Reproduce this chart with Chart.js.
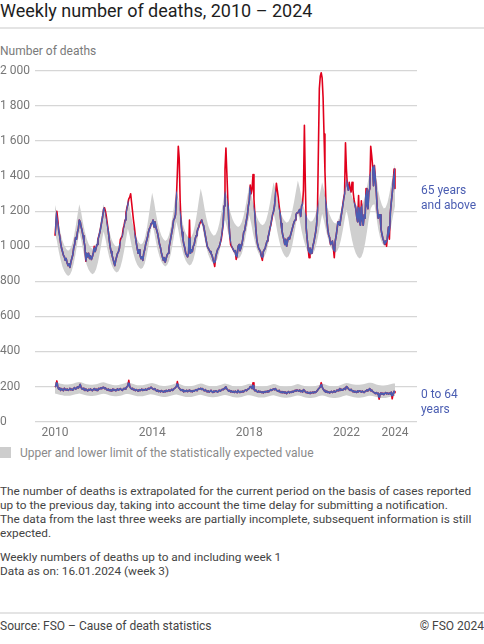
<!DOCTYPE html>
<html>
<head>
<meta charset="utf-8">
<script src="https://cdn.jsdelivr.net/npm/chart.js@4.4.1/dist/chart.umd.min.js"></script>
<style>
  html, body { margin:0; padding:0; background:#fff; }
  body { width:484px; height:644px; position:relative; overflow:hidden; font-family: Roboto, "Noto Sans", sans-serif; }
  .abs { position:absolute; white-space:nowrap; }
  #title { left:0; top:0px; font-size:18px; line-height:21px; color:#1e1e1e; }
  .rule { position:absolute; left:0; width:484px; height:2px; background:#e4e4e4; }
  #ylab { left:0; top:43px; font-size:12px; line-height:16px; color:#7a7a7a; }
  #chartBox { position:absolute; left:0; top:60px; width:484px; height:384px; }
  .series { font-size:12px; line-height:14.5px; color:#4a5db2; }
  #legend { left:0; top:447px; font-size:12px; line-height:12px; color:#8a8a8a; }
  #legend span.sw { display:inline-block; width:11px; height:11px; background:#cdcdcd; vertical-align:top; margin-right:9px; }
  .note { left:0; font-size:11.8px; line-height:14.1px; color:#444; }
  #foot { left:0; top:619px; width:484px; font-size:12px; line-height:15px; color:#444; }
</style>
</head>
<body>
<div id="title" class="abs">Weekly number of deaths, 2010 – 2024</div>
<div class="rule" style="top:27px"></div>
<div id="ylab" class="abs">Number of deaths</div>
<div id="chartBox"><canvas id="c"></canvas></div>
<div class="abs series" style="left:421px; top:183px">65 years<br>and above</div>
<div class="abs series" style="left:421px; top:387px">0 to 64<br>years</div>
<div id="legend" class="abs"><span class="sw"></span>Upper and lower limit of the statistically expected value</div>
<div class="abs note" style="top:484px">The number of deaths is extrapolated for the current period on the basis of cases reported<br>up to the previous day, taking into account the time delay for submitting a notification.<br>The data from the last three weeks are partially incomplete, subsequent information is still<br>expected.</div>
<div class="abs note" style="top:550px">Weekly numbers of deaths up to and including week 1<br>Data as on: 16.01.2024 (week 3)</div>
<div class="rule" style="top:612px"></div>
<div id="foot" class="abs"><span>Source: FSO – Cause of death statistics</span><span style="position:absolute; right:0">© FSO 2024</span></div>

<script>
// ---- DATA ----
const startYear = 2010;
const lineStepsPerYear = 26;   // values every 2 weeks
const bandStepsPerYear = 13;   // band every 4 weeks
const xTickYears = [2010, 2014, 2018, 2022, 2024];
const yTickMax = 2000;
const yTickStep = 200;

// Deaths aged 65 and above (every 2 weeks, 2010 - 2024 week 1)
const deaths65 = [
  1060,1130,1200,1150,1090,1060,1020,990,970,950,940,920,930,905,890,900,880,910,930,950,990,1010,1050,1040,1080,1100,
  1150,1140,1110,1090,1060,1030,1000,915,960,940,960,930,945,925,940,960,1000,970,990,1010,1040,1060,1080,1110,1140,1170,
  1210,1220,1200,1170,1130,1090,1040,1000,970,950,930,910,890,920,940,960,970,990,1040,1050,1060,1100,1120,1150,1190,1220,
  1240,1270,1280,1300,1250,1200,1150,1110,1060,1020,990,960,980,950,930,940,920,960,980,1010,1030,1050,1080,1100,1110,1130,
  1130,1150,1110,1140,1110,1090,1070,1040,1010,990,960,940,920,935,910,930,950,960,990,1020,1050,1080,1110,1150,1160,1180,
  1280,1420,1570,1500,1260,1130,1080,1040,1010,990,960,950,940,960,1150,960,980,970,1000,1010,1040,1060,1080,1100,1110,1130,
  1140,1150,1130,1120,1090,1060,1030,1000,990,980,970,960,950,930,910,885,940,960,980,990,1000,1020,1040,1080,1130,1230,
  1440,1560,1420,1270,1150,1070,1010,1000,990,980,970,975,925,950,1000,1010,975,990,1010,1040,1080,1090,1120,1150,1180,1230,
  1260,1350,1300,1330,1410,1270,1180,1100,1040,1010,990,980,970,940,920,970,980,990,1010,1030,1050,1070,1100,1120,1150,1180,
  1200,1230,1290,1360,1320,1280,1230,1190,1130,1090,1060,1040,1010,1040,1000,1030,1050,1040,1060,1080,1100,1120,1140,1150,1180,1190,
  1190,1200,1210,1170,1230,1240,1320,1690,1360,1100,1040,990,935,990,975,960,1000,1020,1050,1080,1120,1200,1550,1900,1970,1990,
  1960,1850,1640,1430,1260,1160,1100,1065,1050,1010,1020,1030,990,935,1030,1060,1100,1140,1130,1120,1160,1195,1230,1270,1300,1590,
  1440,1345,1320,1365,1330,1310,1365,1320,1270,1240,1215,1170,1140,1290,1140,1120,1260,1150,1120,1180,1160,1330,1240,1215,1310,1330,
  1570,1520,1460,1345,1460,1380,1310,1215,1160,1180,1180,1100,1070,1045,1030,1010,1030,1000,1060,1110,1040,1190,1250,1300,1360,1440,
  1330
];

// Expected range aged 65 and above (every 4 weeks)
const upper65 = [
  1235,1188,1126,1074,1032,1004,985,975,983,1007,1049,1108,1176,
  1240,1194,1133,1082,1041,1013,995,985,993,1016,1056,1113,1179,
  1240,1196,1137,1088,1049,1022,1005,995,1003,1028,1072,1133,1204,
  1270,1223,1161,1109,1067,1039,1020,1010,1019,1045,1093,1158,1234,
  1305,1256,1190,1135,1091,1060,1041,1030,1039,1065,1111,1175,1250,
  1320,1271,1205,1150,1106,1075,1056,1045,1054,1079,1125,1188,1262,
  1330,1281,1217,1163,1119,1090,1071,1060,1068,1091,1133,1190,1258,
  1320,1282,1232,1190,1156,1133,1118,1110,1117,1138,1176,1228,1289,
  1345,1305,1251,1206,1170,1145,1129,1120,1127,1149,1189,1243,1306,
  1365,1324,1268,1222,1186,1160,1144,1135,1142,1164,1202,1255,1317,
  1375,1333,1276,1229,1192,1166,1149,1140,1147,1167,1203,1253,1311,
  1365,1323,1266,1219,1182,1156,1139,1130,1138,1161,1201,1258,1324,
  1385,1355,1316,1283,1256,1238,1227,1220,1228,1251,1291,1340,1395,
  1430,1455,1470,1400,1320,1270,1235,1215,1222,1250,1300,1360,1400,
  1470
];
const lower65 = [
  1075,1031,972,923,884,857,840,830,838,860,900,955,1020,
  1080,1037,979,931,893,866,850,840,847,869,909,963,1026,
  1085,1043,986,939,902,876,859,850,858,880,920,975,1040,
  1100,1059,1003,957,921,895,879,870,878,901,943,1000,1068,
  1130,1086,1027,978,939,912,895,885,893,916,956,1013,1079,
  1140,1095,1035,985,945,918,900,890,898,921,963,1020,1088,
  1150,1105,1045,995,955,928,910,900,908,930,970,1025,1090,
  1150,1110,1058,1014,978,954,939,930,937,959,999,1053,1116,
  1175,1131,1073,1024,985,959,942,932,940,963,1004,1061,1128,
  1190,1144,1083,1032,991,963,945,935,943,966,1006,1063,1129,
  1190,1147,1089,1041,1003,976,960,950,957,978,1016,1068,1129,
  1185,1145,1093,1049,1013,989,974,965,972,994,1034,1088,1151,
  1210,1160,1092,1036,992,961,941,930,939,967,1017,1085,1160,
  1215,1235,1240,1170,1100,1050,1020,1005,1012,1032,1068,1118,1176,
  1230
];

// Deaths aged 0 to 64 (every 2 weeks)
const deaths064 = [
  198,205,232,196,185,192,178,188,182,176,190,184,180,186,178,183,190,181,186,179,188,194,185,190,198,192,
  200,212,194,186,190,182,178,186,180,175,184,179,186,181,176,183,188,180,185,177,184,190,186,192,188,194,
  196,188,192,184,180,186,177,182,175,181,186,178,183,176,180,187,179,184,188,182,178,185,190,186,193,198,
  204,235,200,192,186,190,181,184,177,183,179,174,182,176,181,185,178,183,179,186,180,184,190,186,192,196,
  190,186,183,188,178,174,180,171,176,170,177,173,168,175,170,178,172,176,181,174,179,184,178,186,190,194,
  200,228,198,190,184,178,182,175,170,177,172,178,171,176,180,172,175,170,177,173,179,182,176,184,188,186,
  190,184,188,180,176,182,174,170,176,168,173,179,171,166,174,170,176,172,168,175,179,173,180,184,182,188,
  194,198,186,180,174,178,170,175,168,172,166,174,169,165,178,170,166,172,168,174,170,176,181,176,182,186,
  190,200,196,188,222,184,176,180,172,168,175,169,172,166,170,164,171,167,173,169,175,171,177,182,178,183,
  186,182,188,180,176,172,178,169,166,172,165,170,163,168,160,166,171,164,169,167,172,168,175,178,174,180,
  178,174,180,171,176,168,182,178,170,165,168,162,166,160,167,163,168,164,170,166,172,178,186,192,198,222,
  196,186,178,172,168,174,166,170,163,168,172,166,170,175,168,173,180,176,182,188,178,184,179,186,190,184,
  200,196,188,182,178,184,176,170,174,168,172,166,175,170,176,172,168,174,170,166,172,176,181,175,183,188,
  176,180,172,168,164,160,166,158,162,128,158,164,156,162,154,160,166,158,163,157,162,158,168,130,160,172,
  165
];

// Expected range aged 0 to 64 (every 4 weeks)
const upper064 = [
  226,224,220,216,214,212,212,212,213,215,218,221,224,
  226,224,220,216,213,211,210,210,211,213,216,220,223,
  225,222,218,214,211,209,208,208,209,211,214,218,222,
  224,222,218,214,210,208,207,207,208,210,213,216,219,
  220,218,214,210,206,204,203,203,204,206,209,212,216,
  219,217,213,209,205,203,202,202,203,205,208,211,215,
  218,216,212,208,204,202,201,201,202,204,207,210,214,
  217,215,211,207,203,201,200,200,201,203,206,209,213,
  216,214,210,206,202,200,199,199,200,202,205,208,212,
  215,213,209,205,201,199,198,198,199,201,204,207,211,
  214,212,208,204,201,199,198,198,199,201,204,208,212,
  216,214,210,206,203,201,200,200,202,205,209,213,217,
  220,219,216,213,211,210,210,210,211,213,216,219,221,
  222,220,216,212,209,207,206,206,207,209,212,215,218,
  218
];
const lower064 = [
  160,158,155,152,150,148,147,147,148,150,153,156,158,
  160,158,155,152,149,147,146,146,147,149,152,155,158,
  159,157,154,151,148,146,145,145,146,148,151,154,157,
  158,156,153,150,147,145,144,144,145,147,150,153,156,
  155,153,150,147,144,142,141,141,142,144,147,150,153,
  154,152,149,146,143,141,140,140,141,143,146,149,152,
  153,151,148,145,142,140,139,139,140,142,145,148,151,
  152,150,147,144,141,139,138,138,139,141,144,147,150,
  151,149,146,143,140,138,137,137,138,140,143,146,149,
  150,148,145,142,139,137,136,136,137,139,142,145,148,
  149,147,144,141,138,136,135,135,136,138,141,144,147,
  149,147,144,141,138,136,135,135,136,138,141,144,147,
  150,148,145,142,139,137,136,136,137,139,142,145,148,
  148,146,143,140,137,135,134,134,135,137,140,143,146,
  146
];

// ---- STYLE ----
const BLUE = '#4a5db2';
const RED = '#e1001c';
const BAND = '#cfcfcf';
const LW = 1.6;

function toXY(values, stepsPerYear) {
  return values.map((v, i) => ({ x: startYear + i / stepsPerYear, y: v }));
}

const bandDs = (label, values, fillTarget, order) => ({
  label, data: toXY(values, bandStepsPerYear),
  borderWidth: 0, pointRadius: 0, tension: 0,
  backgroundColor: BAND, borderColor: BAND,
  fill: fillTarget, order
});

const datasets = [
  bandDs('upper65', upper65, 1, 20),
  bandDs('lower65', lower65, false, 21),
  bandDs('upper064', upper064, 3, 20),
  bandDs('lower064', lower064, false, 21),
  { label:'red65', data: toXY(deaths65, lineStepsPerYear), borderColor: RED, borderWidth: LW, pointRadius: 0, fill:false, tension:0, order: 5 },
  { label:'red064', data: toXY(deaths064, lineStepsPerYear), borderColor: RED, borderWidth: LW, pointRadius: 0, fill:false, tension:0, order: 5 },
  { label:'blue65', data: toXY(deaths65, lineStepsPerYear), borderColor: BLUE, borderWidth: LW, pointRadius: 0, fill:false, tension:0, order: 1, clipBand:[0,1] },
  { label:'blue064', data: toXY(deaths064, lineStepsPerYear), borderColor: BLUE, borderWidth: LW, pointRadius: 0, fill:false, tension:0, order: 1, clipBand:[2,3] }
];

const bandClip = {
  id: 'bandClip',
  beforeDatasetDraw(chart, args) {
    const ds = chart.data.datasets[args.index];
    if (!ds.clipBand) return;
    const up = chart.getDatasetMeta(ds.clipBand[0]).data;
    const lo = chart.getDatasetMeta(ds.clipBand[1]).data;
    const ctx = chart.ctx;
    ctx.save();
    ctx.beginPath();
    up.forEach((p, i) => i ? ctx.lineTo(p.x, p.y) : ctx.moveTo(p.x, p.y));
    for (let i = lo.length - 1; i >= 0; i--) ctx.lineTo(lo[i].x, lo[i].y);
    ctx.closePath();
    ctx.clip();
  },
  afterDatasetDraw(chart, args) {
    const ds = chart.data.datasets[args.index];
    if (ds.clipBand) chart.ctx.restore();
  }
};

const pxPerYear = 340 / 14;
new Chart(document.getElementById('c'), {
  type: 'line',
  data: { datasets },
  plugins: [bandClip],
  options: {
    responsive: true,
    maintainAspectRatio: false,
    animation: false,
    normalized: true,
    layout: { padding: { top: 11, right: 67, bottom: 0, left: 0 } },
    plugins: { legend: { display: false }, tooltip: { enabled: false } },
    elements: { line: { borderJoinStyle: 'round' } },
    scales: {
      x: {
        type: 'linear',
        min: 2010 - 20 / pxPerYear,
        max: 2024 + 22 / pxPerYear,
        afterBuildTicks: (s) => { s.ticks = xTickYears.map(v => ({ value: v })); },
        grid: { display: false, drawTicks: false },
        border: { display: false },
        ticks: {
          padding: 4,
          color: '#777',
          font: { family: 'Roboto', size: 12 },
          autoSkip: false, maxRotation: 0,
          callback: (v) => String(v)
        }
      },
      y: {
        min: 0, max: yTickMax,
        afterFit: (s) => { s.width = 35; },
        grid: { color: '#d6d6d6', lineWidth: 1.3, drawTicks: false },
        border: { display: false },
        ticks: {
          stepSize: yTickStep,
          crossAlign: 'far',
          padding: 0,
          color: '#777',
          font: { family: 'Roboto', size: 12 },
          callback: (v) => v >= 1000 ? String(v).replace(/(\d)(\d{3})$/, '$1 $2') : String(v)
        }
      }
    }
  }
});
</script>
</body>
</html>
